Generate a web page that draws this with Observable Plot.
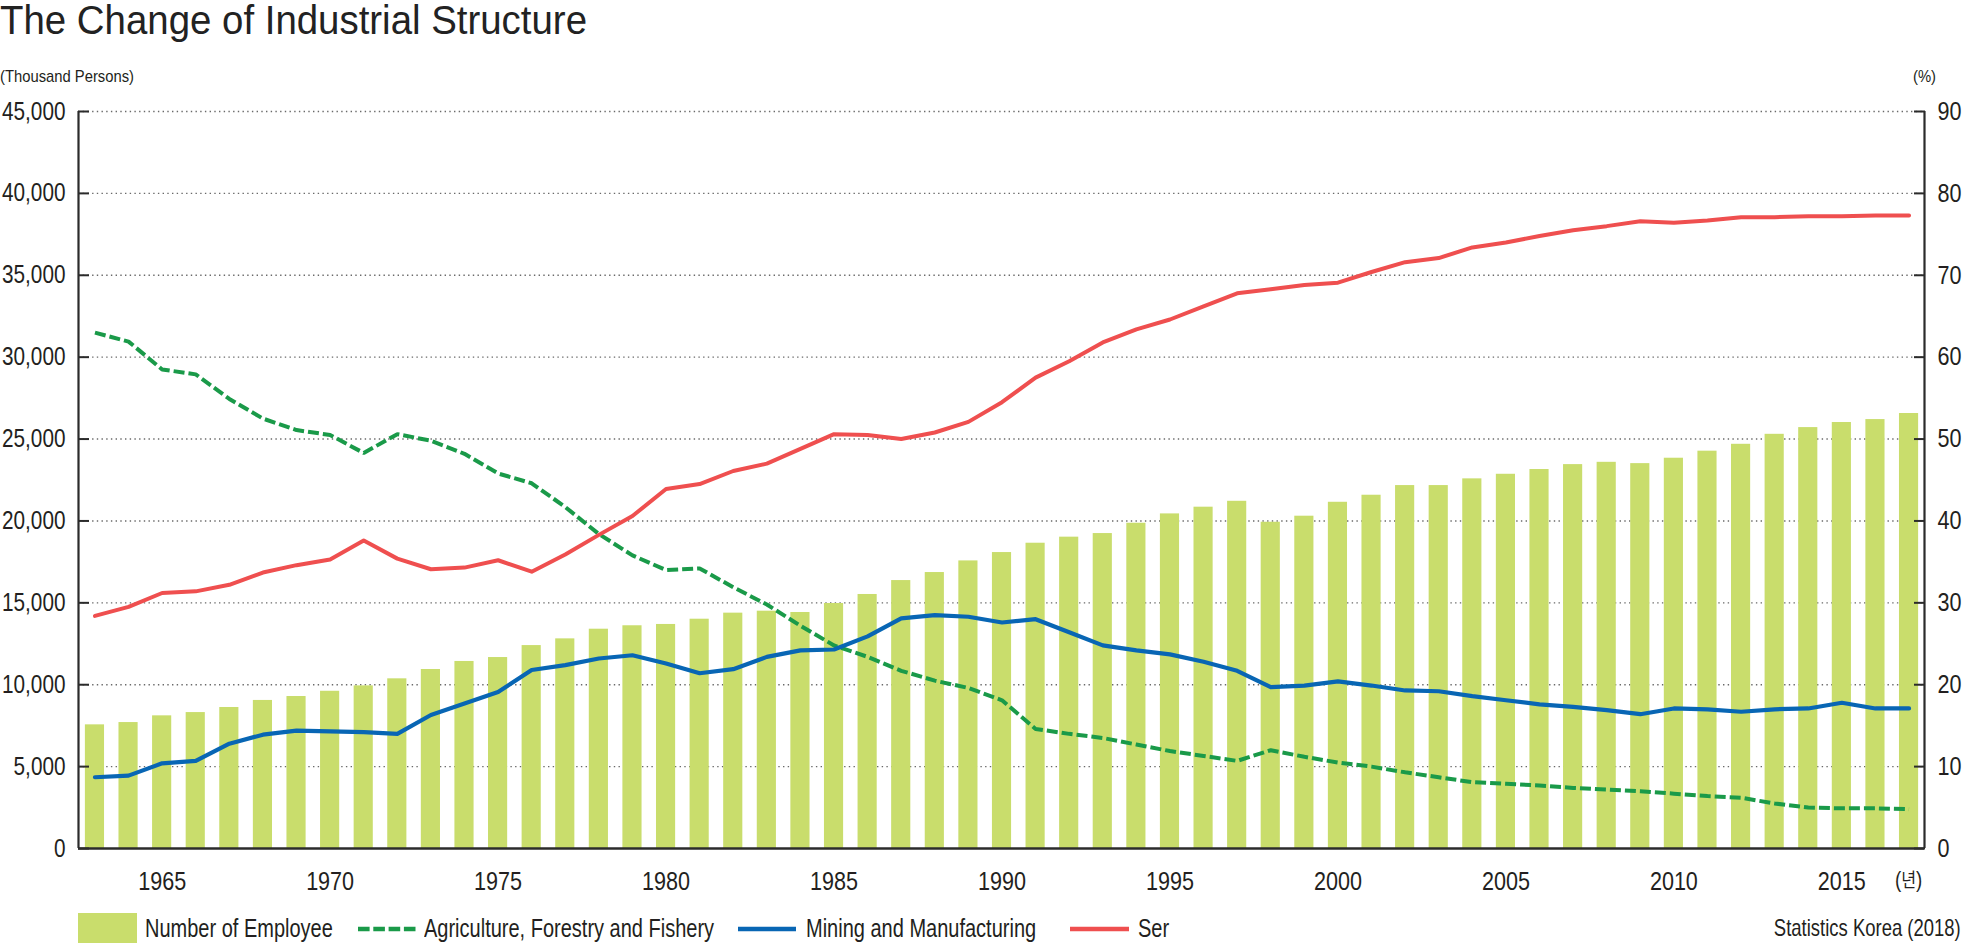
<!DOCTYPE html>
<html>
<head>
<meta charset="utf-8">
<script src="https://cdn.jsdelivr.net/npm/d3@7"></script>
<script src="https://cdn.jsdelivr.net/npm/@observablehq/plot@0.6"></script>
<style>
  html, body { margin: 0; padding: 0; background: #fff; }
  body {
    width: 1974px; height: 945px; position: relative; overflow: hidden;
    font-family: "Liberation Sans", Arial, sans-serif;
    color: #231f20;
  }
  .abs { position: absolute; white-space: nowrap; line-height: 1; transform-origin: 0 50%; }
  #title { left: 0; top: 0; font-size: 40px; color: #222; transform: scaleX(0.96); }
  #unitLeft { left: 0; top: 67.6px; font-size: 17px; transform: scaleX(0.87); }
  #unitRight { left: 1913px; top: 67.6px; font-size: 17px; transform: scaleX(0.87); }
  #yearUnit { left: 1895px; top: 869px; font-size: 22px; transform: scaleX(0.85); }
  #yearUnit .ko { font-family: "Noto Sans CJK KR", sans-serif; font-size: 19px; }
  #chart { position: absolute; left: 0; top: 95px; }
  .legend-text { top: 916px; font-size: 25px; transform: scaleX(0.8); }
  #source { right: 13px; top: 916.4px; font-size: 24px; transform-origin: 100% 50%; transform: scaleX(0.77); }
  .swatch { position: absolute; }
</style>
</head>
<body>
<div id="title" class="abs">The Change of Industrial Structure</div>
<div id="unitLeft" class="abs">(Thousand Persons)</div>
<div id="unitRight" class="abs">(%)</div>
<div id="chart"></div>
<div id="yearUnit" class="abs">(<span class="ko">년</span>)</div>
<div id="legend"></div>
<div id="source" class="abs">Statistics Korea (2018)</div>

<script>
// Years 1963–2017
const years = [
  1963, 1964, 1965, 1966, 1967, 1968, 1969, 1970, 1971, 1972,
  1973, 1974, 1975, 1976, 1977, 1978, 1979, 1980, 1981, 1982,
  1983, 1984, 1985, 1986, 1987, 1988, 1989, 1990, 1991, 1992,
  1993, 1994, 1995, 1996, 1997, 1998, 1999, 2000, 2001, 2002,
  2003, 2004, 2005, 2006, 2007, 2008, 2009, 2010, 2011, 2012,
  2013, 2014, 2015, 2016, 2017
];

// Number of employed persons (thousand persons)
const employees = [
  7550, 7690, 8100, 8300, 8610, 9040, 9280, 9600, 9930, 10360,
  10930, 11420, 11660, 12390, 12800, 13390, 13600, 13680, 14000, 14370,
  14490, 14410, 14960, 15510, 16360, 16850, 17560, 18070, 18640, 19010,
  19230, 19860, 20430, 20840, 21200, 19920, 20290, 21140, 21570, 22160,
  22160, 22570, 22850, 23140, 23440, 23580, 23500, 23830, 24260, 24680,
  25290, 25700, 26010, 26190, 26560
];

// Share of employment by industry (%)
const agriculture = [
  63.0, 61.9, 58.5, 57.9, 54.9, 52.5, 51.1, 50.5, 48.3, 50.6,
  49.8, 48.2, 45.8, 44.6, 41.7, 38.4, 35.8, 34.0, 34.2, 31.9,
  29.8, 27.2, 24.8, 23.4, 21.7, 20.5, 19.6, 18.1, 14.6, 14.0,
  13.5, 12.7, 11.9, 11.3, 10.7, 12.0, 11.2, 10.5, 10.0, 9.3,
  8.7, 8.1, 7.9, 7.7, 7.4, 7.2, 7.0, 6.7, 6.4, 6.2,
  5.5, 5.0, 4.9, 4.9, 4.8
];
const mining = [
  8.7, 8.9, 10.4, 10.7, 12.8, 13.9, 14.4, 14.3, 14.2, 14.0,
  16.3, 17.7, 19.1, 21.8, 22.4, 23.2, 23.6, 22.6, 21.4, 21.9,
  23.4, 24.2, 24.3, 25.9, 28.1, 28.5, 28.3, 27.6, 28.0, 26.4,
  24.8, 24.2, 23.7, 22.8, 21.7, 19.7, 19.9, 20.4, 19.9, 19.3,
  19.2, 18.6, 18.1, 17.6, 17.3, 16.9, 16.4, 17.1, 17.0, 16.7,
  17.0, 17.1, 17.8, 17.1, 17.1
];
const service = [
  28.4, 29.5, 31.2, 31.4, 32.2, 33.7, 34.6, 35.3, 37.6, 35.4,
  34.1, 34.3, 35.2, 33.8, 35.9, 38.3, 40.6, 43.9, 44.5, 46.1,
  47.0, 48.8, 50.6, 50.5, 50.0, 50.8, 52.1, 54.5, 57.5, 59.5,
  61.8, 63.4, 64.6, 66.2, 67.8, 68.3, 68.8, 69.1, 70.4, 71.6,
  72.1, 73.4, 74.0, 74.8, 75.5, 76.0, 76.6, 76.4, 76.7, 77.1,
  77.1, 77.2, 77.2, 77.3, 77.3
];

// Axis ticks
const xTicks = [1965, 1970, 1975, 1980, 1985, 1990, 1995, 2000, 2005, 2010, 2015];
const leftTicks = [0, 5000, 10000, 15000, 20000, 25000, 30000, 35000, 40000, 45000];
const rightTicks = [0, 10, 20, 30, 40, 50, 60, 70, 80, 90];

// Legend entries
const legendLabels = ["Number of Employee", "Agriculture, Forestry and Fishery", "Mining and Manufacturing", "Ser"];

const colors = {
  bar: "#c9dd6c",
  agriculture: "#1a9a49",
  mining: "#0866b4",
  service: "#ef4f4f",
  axis: "#2b2b2b"
};

// 90% on the right axis lines up with 45,000 on the left axis
const pctToLeft = 45000 / 90;

const rows = years.map((year, i) => ({
  year,
  employees: employees[i],
  agriculture: agriculture[i],
  mining: mining[i],
  service: service[i]
}));

const xDomain = [1962.51, 2017.46];
const halfBar = 0.285;

const chart = Plot.plot({
  width: 1974,
  height: 805,
  marginTop: 16,
  marginBottom: 52,
  marginLeft: 78,
  marginRight: 50,
  style: {fontFamily: '"Liberation Sans", Arial, sans-serif', fontSize: "25px", color: "#231f20", background: "transparent"},
  x: {domain: xDomain, label: null},
  y: {domain: [0, 45000], label: null},
  marks: [
    Plot.gridY(leftTicks.filter(d => d > 0), {
      stroke: "#6a6a6a", strokeOpacity: 1, strokeWidth: 1.4, strokeDasharray: "1.4,3.3"
    }),
    Plot.rectY(rows, {
      x1: d => d.year - halfBar, x2: d => d.year + halfBar,
      y1: 0, y2: "employees", fill: colors.bar
    }),
    Plot.line(rows, {
      x: "year", y: d => d.agriculture * pctToLeft,
      stroke: colors.agriculture, strokeWidth: 4, strokeDasharray: "11,4",
      strokeLinecap: "butt", strokeLinejoin: "miter"
    }),
    Plot.line(rows, {
      x: "year", y: d => d.mining * pctToLeft,
      stroke: colors.mining, strokeWidth: 4.2
    }),
    Plot.line(rows, {
      x: "year", y: d => d.service * pctToLeft,
      stroke: colors.service, strokeWidth: 4
    }),
    Plot.ruleX(xDomain, {stroke: colors.axis, strokeWidth: 2.2}),
    Plot.ruleY([0], {stroke: colors.axis, strokeWidth: 2.6}),
    Plot.axisY(leftTicks, {
      anchor: "left", label: null, tickSize: -11, tickPadding: 24,
      stroke: colors.axis, strokeWidth: 2,
      tickFormat: d3.format(","), fontSize: 25
    }),
    Plot.axisY(rightTicks.map(d => d * pctToLeft), {
      anchor: "right", label: null, tickSize: -11, tickPadding: 24,
      stroke: colors.axis, strokeWidth: 2,
      tickFormat: d => String(d / pctToLeft), fontSize: 26
    }),
    Plot.axisX(xTicks, {
      anchor: "bottom", label: null, tickSize: 0, tickPadding: 23,
      tickFormat: d => String(d), fontSize: 26
    })
  ]
});

// Narrow the tick labels about their anchor point for a condensed look
chart.querySelectorAll('g[aria-label$="tick label"] text').forEach(text => {
  const x = +text.getAttribute("x") || 0;
  text.removeAttribute("x");
  const tr = text.getAttribute("transform") || "";
  text.setAttribute("transform", `${tr} translate(${x},0) scale(0.83,1)`);
});
document.getElementById("chart").appendChild(chart);

// Legend below the chart
const legend = document.getElementById("legend");
const legendItems = [
  {label: legendLabels[0], kind: "rect", color: colors.bar, x0: 78, x1: 137, textX: 145},
  {label: legendLabels[1], kind: "dash", color: colors.agriculture, x0: 358, x1: 416, textX: 424},
  {label: legendLabels[2], kind: "line", color: colors.mining, x0: 738, x1: 796, textX: 806},
  {label: legendLabels[3], kind: "line", color: colors.service, x0: 1070, x1: 1129, textX: 1138}
];
const ns = "http://www.w3.org/2000/svg";
for (const item of legendItems) {
  const w = item.x1 - item.x0;
  const svg = document.createElementNS(ns, "svg");
  svg.setAttribute("class", "swatch");
  svg.setAttribute("width", w);
  svg.setAttribute("height", 30);
  svg.style.left = item.x0 + "px";
  svg.style.top = "913px";
  if (item.kind === "rect") {
    const r = document.createElementNS(ns, "rect");
    r.setAttribute("width", w); r.setAttribute("height", 30);
    r.setAttribute("fill", item.color);
    svg.appendChild(r);
  } else {
    const l = document.createElementNS(ns, "line");
    l.setAttribute("x1", 0); l.setAttribute("x2", w);
    l.setAttribute("y1", 16); l.setAttribute("y2", 16);
    l.setAttribute("stroke", item.color);
    l.setAttribute("stroke-width", 4.3);
    if (item.kind === "dash") l.setAttribute("stroke-dasharray", "11.6,3.7");
    svg.appendChild(l);
  }
  legend.appendChild(svg);
  const t = document.createElement("div");
  t.className = "abs legend-text";
  t.style.left = item.textX + "px";
  t.textContent = item.label;
  legend.appendChild(t);
}
</script>
</body>
</html>
